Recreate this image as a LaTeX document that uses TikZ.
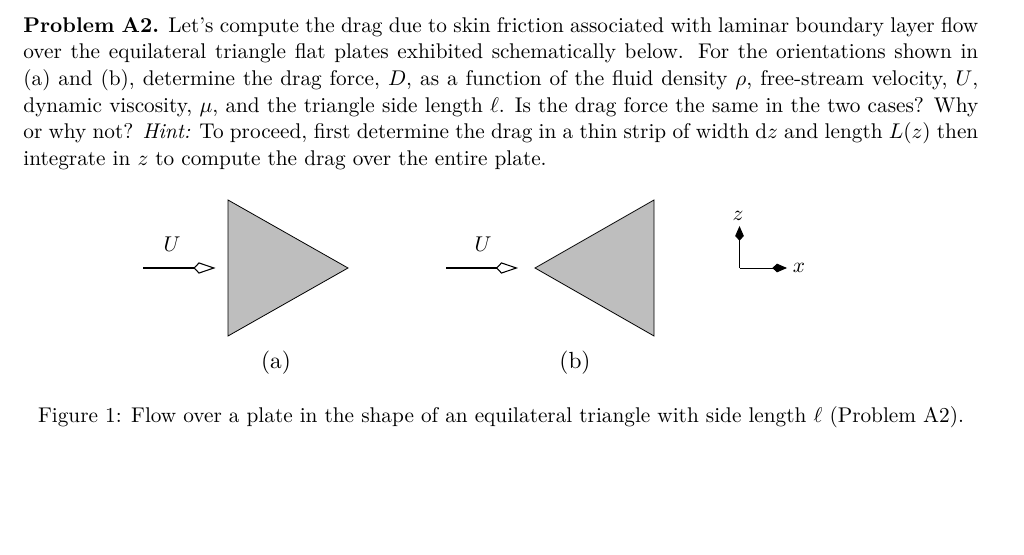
\documentclass[tikz,border=0pt]{standalone}
\usepackage{amsmath,amssymb}
\usepackage{xcolor}
\definecolor{Plate}{RGB}{190,190,190}
\usepackage{tikz}
\usetikzlibrary{arrows.meta}
\tikzstyle{Body}=[anchor=north west,inner sep=0pt,scale=1.595,text width=449pt,
align=justify,font=\fontsize{10}{12.48}\selectfont]
\tikzstyle{Caption}=[inner sep=0pt,scale=1.595,font=\fontsize{10}{12.48}\selectfont]
\tikzstyle{Tri}=[draw=black,fill=Plate,line width=.6pt,line join=miter]
\tikzstyle{Flow}=[draw=black,line width=.8pt,
-{Kite[open,length=16.5pt,width=8.5pt,inset=4pt,line width=.8pt]}]
\tikzstyle{Axis}=[draw=black,line width=.7pt,
-{Kite[length=11pt,width=6.5pt,inset=3.5pt]}]
\tikzstyle{NodeFig}=[inner sep=0pt,scale=1.6,font=\fontsize{10}{12}\selectfont]
\tikzstyle{NodeSub}=[inner sep=0pt,scale=1.75,font=\fontsize{10}{12}\selectfont]

\begin{document}
\begin{tikzpicture}[x=.75pt,y=-.75pt]
        \useasboundingbox(0,0)rectangle(1024,555);
        \node[Body](text)at(23,17){\textbf{Problem A2.} Let's compute the drag due to skin friction associated with laminar boundary layer flow\linebreak
            over the equilateral triangle flat plates exhibited schematically below. For the orientations shown in\linebreak
            (a) and (b), determine the drag force, $D$, as a function of the fluid density $\rho$, free-stream velocity, $U$,\linebreak
            dynamic viscosity, $\mu$, and the triangle side length $\ell$. Is the drag force the same in the two cases? Why\linebreak
            or why not? \textit{Hint:} To proceed, first determine the drag in a thin strip of width d$z$ and length $L(z)$ then\linebreak
            integrate in $z$ to compute the drag over the entire plate.\par};
        % plates
        \coordinate(a1)at(228,200);
        \coordinate(a2)at(348,268);
        \coordinate(a3)at(228,336);
        \coordinate(b1)at(654,200);
        \coordinate(b2)at(535,268);
        \coordinate(b3)at(654,336);
        \draw[Tri](a1)--(a2)--(a3)--cycle;
        \draw[Tri](b1)--(b2)--(b3)--cycle;
        % free stream
        \coordinate(ua0)at(143,268);
        \coordinate(ua1)at(215.5,268);
        \coordinate(ub0)at(446,268);
        \coordinate(ub1)at(518,268);
        \draw[Flow](ua0)--(ua1);
        \draw[Flow](ub0)--(ub1);
        \node[NodeFig](ua)at(172,244){$U$};
        \node[NodeFig](ub)at(483,244){$U$};
        % axes
        \coordinate(o)at(739.5,268);
        \coordinate(xt)at(787,268);
        \coordinate(zt)at(739.5,226);
        \draw[Axis](o)--(xt);
        \draw[Axis](o)--(zt);
        \node[NodeFig](x)at(799,268){$x$};
        \node[NodeFig](z)at(738,216){$z$};
        % labels
        \node[NodeSub](la)at(276,363){(a)};
        \node[NodeSub](lb)at(575,363){(b)};
        \node[Caption](cap)at(501,417){Figure 1: Flow over a plate in the shape of an equilateral triangle with side length $\ell$ (Problem A2).};
\end{tikzpicture}
\end{document}
